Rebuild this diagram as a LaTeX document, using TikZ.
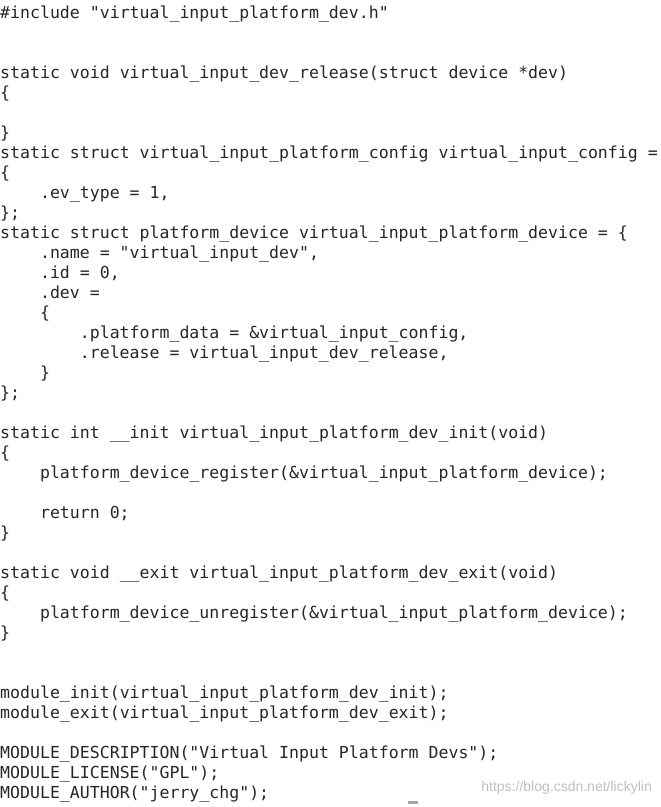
\documentclass[tikz,border=0pt]{standalone}
\usepackage{fontspec}
\setmonofont{DejaVu Sans Mono}
\newfontfamily\wmfont{Liberation Sans}
\begin{document}
\begin{tikzpicture}[x=1pt,y=1pt,
  code/.style={anchor=mid west,inner sep=0pt,yshift=-3.5pt,font=\fontsize{16.55}{20}\ttfamily,text=black!85}]
\useasboundingbox[fill=white] (0,0) rectangle (661,-807);
\def\cw{9.96}
\node[code] (l1) at (0,-13) {\#include "virtual\_input\_platform\_dev.h"};
\node[code] (l2) at (0,-73) {static void virtual\_input\_dev\_release(struct device *dev)};
\node[code] (l3) at (0,-93) {\{};
\node[code] (l4) at (0,-133) {\}};
\node[code] (l5) at (0,-153) {static struct virtual\_input\_platform\_config virtual\_input\_config =};
\node[code] (l6) at (0,-173) {\{};
\node[code] (l7) at (4*\cw,-193) {.ev\_type = 1,};
\node[code] (l8) at (0,-213) {\};};
\node[code] (l9) at (0,-233) {static struct platform\_device virtual\_input\_platform\_device = \{};
\node[code] (l10) at (4*\cw,-253) {.name = "virtual\_input\_dev",};
\node[code] (l11) at (4*\cw,-273) {.id = 0,};
\node[code] (l12) at (4*\cw,-293) {.dev =};
\node[code] (l13) at (4*\cw,-313) {\{};
\node[code] (l14) at (8*\cw,-333) {.platform\_data = \&virtual\_input\_config,};
\node[code] (l15) at (8*\cw,-353) {.release = virtual\_input\_dev\_release,};
\node[code] (l16) at (4*\cw,-373) {\}};
\node[code] (l17) at (0,-393) {\};};
\node[code] (l18) at (0,-433) {static int \_\_init virtual\_input\_platform\_dev\_init(void)};
\node[code] (l19) at (0,-453) {\{};
\node[code] (l20) at (4*\cw,-473) {platform\_device\_register(\&virtual\_input\_platform\_device);};
\node[code] (l21) at (4*\cw,-513) {return 0;};
\node[code] (l22) at (0,-533) {\}};
\node[code] (l23) at (0,-573) {static void \_\_exit virtual\_input\_platform\_dev\_exit(void)};
\node[code] (l24) at (0,-593) {\{};
\node[code] (l25) at (4*\cw,-613) {platform\_device\_unregister(\&virtual\_input\_platform\_device);};
\node[code] (l26) at (0,-633) {\}};
\node[code] (l27) at (0,-693) {module\_init(virtual\_input\_platform\_dev\_init);};
\node[code] (l28) at (0,-713) {module\_exit(virtual\_input\_platform\_dev\_exit);};
\node[code] (l29) at (0,-753) {MODULE\_DESCRIPTION("Virtual Input Platform Devs");};
\node[code] (l30) at (0,-773) {MODULE\_LICENSE("GPL");};
\node[code] (l31) at (0,-793) {MODULE\_AUTHOR("jerry\_chg");};
\node[anchor=mid east,inner sep=0pt,font=\wmfont\fontsize{14}{16}\selectfont,text=black!25] (wm) at (652,-789) {https://blog.csdn.net/lickylin};
\fill[black!35] (408,-801) rectangle (418,-804);
\end{tikzpicture}
\end{document}
